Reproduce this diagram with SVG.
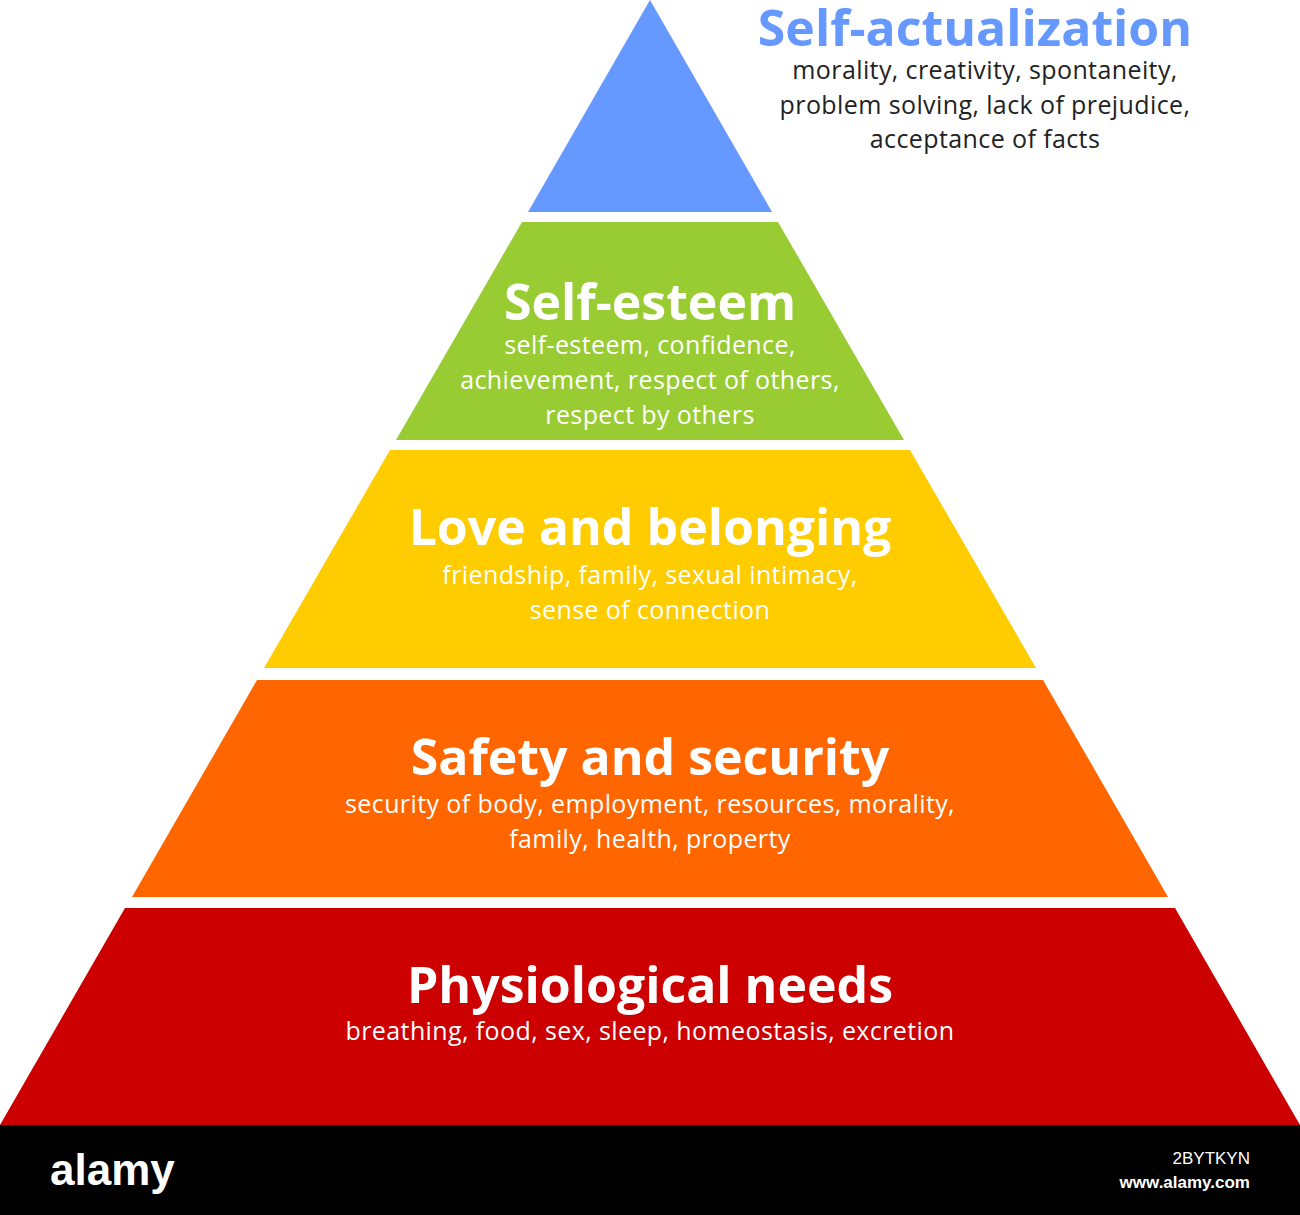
<svg xmlns="http://www.w3.org/2000/svg" width="1300" height="1215" viewBox="0 0 1300 1215">
<style>
.t{font-family:"Open Sans","Liberation Sans",sans-serif;font-weight:bold;font-size:50px;fill:#fff;text-anchor:middle}
.s{font-family:"Open Sans","Liberation Sans",sans-serif;font-size:25px;letter-spacing:0.4px;fill:#fff;text-anchor:middle}
.d{fill:#222}
</style>
<rect width="1300" height="1215" fill="#fff"/>
<g id="self-actualization">
<polygon points="650,0 772,212 528,212" fill="#6699ff"/>
<text class="t" x="975" y="46" style="fill:#6699ff">Self-actualization</text>
<text class="s d" x="985" y="79">morality, creativity, spontaneity,</text>
<text class="s d" x="985" y="114">problem solving, lack of prejudice,</text>
<text class="s d" x="985" y="148">acceptance of facts</text>
</g>
<g id="self-esteem">
<polygon points="522,222 778,222 904,440 396,440" fill="#99cc33"/>
<text class="t" x="650" y="320">Self-esteem</text>
<text class="s" x="650" y="354">self-esteem, confidence,</text>
<text class="s" x="650" y="389">achievement, respect of others,</text>
<text class="s" x="650" y="424">respect by others</text>
</g>
<g id="love">
<polygon points="390,450 910,450 1036,668 264,668" fill="#ffcc00"/>
<text class="t" x="650" y="545">Love and belonging</text>
<text class="s" x="650" y="584">friendship, family, sexual intimacy,</text>
<text class="s" x="650" y="619">sense of connection</text>
</g>
<g id="safety">
<polygon points="257,680 1043,680 1168,897 132,897" fill="#ff6600"/>
<text class="t" x="650" y="775">Safety and security</text>
<text class="s" x="650" y="813">security of body, employment, resources, morality,</text>
<text class="s" x="650" y="848">family, health, property</text>
</g>
<g id="physiological">
<polygon points="125,908 1175,908 1300,1125 0,1125" fill="#cc0000"/>
<text class="t" x="650" y="1003">Physiological needs</text>
<text class="s" x="650" y="1040">breathing, food, sex, sleep, homeostasis, excretion</text>
</g>
<g id="footer">
<rect x="0" y="1125" width="1300" height="90" fill="#000"/>
<text x="50" y="1185" font-family="Liberation Sans,sans-serif" font-weight="bold" font-size="44" fill="#fff">alamy</text>
<text x="1250" y="1164" font-family="Liberation Sans,sans-serif" font-size="17" fill="#fff" text-anchor="end">2BYTKYN</text>
<text x="1250" y="1188" font-family="Liberation Sans,sans-serif" font-size="17" font-weight="bold" fill="#fff" text-anchor="end">www.alamy.com</text>
</g>
<g id="connectors"/>
</svg>
